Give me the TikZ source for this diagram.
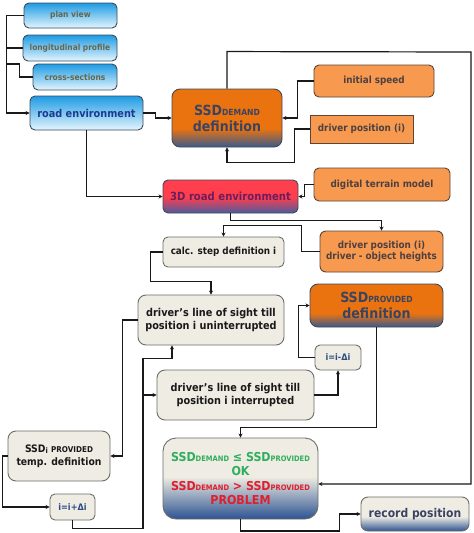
\documentclass[tikz,border=0pt]{standalone}
\usepackage{fontspec}
\setmainfont{DejaVu Sans Condensed}
\usetikzlibrary{arrows.meta,calc}
\definecolor{bluetop}{HTML}{1E9BE3}
\definecolor{bluebot}{HTML}{E4F5FD}
\definecolor{blueedge}{HTML}{3C4A5C}
\definecolor{orlight}{HTML}{F7994F}
\definecolor{oredge}{HTML}{5E4434}
\definecolor{ordeep}{HTML}{EA730F}
\definecolor{ssdblue}{HTML}{3A5A8E}
\definecolor{beige}{HTML}{EEECE3}
\definecolor{beigeedge}{HTML}{6E6E68}
\definecolor{redtop}{HTML}{FF3E4E}
\definecolor{bluethree}{HTML}{4A5C9E}
\definecolor{resblue}{HTML}{2C5391}
\definecolor{txtolive}{HTML}{66664C}
\definecolor{txtroad}{HTML}{1C3A92}
\definecolor{txtssd}{HTML}{3A4462}
\definecolor{txtor}{HTML}{4E4040}
\definecolor{txtthree}{HTML}{6E1D5C}
\definecolor{txtdelta}{HTML}{2A4C80}
\definecolor{okgreen}{HTML}{2FAE5E}
\definecolor{badred}{HTML}{E21E2C}
\pgfdeclareverticalshading{ssdshade}{100bp}{color(0bp)=(ssdblue); color(25bp)=(ssdblue); color(41bp)=(ordeep); color(100bp)=(ordeep)}
\pgfdeclareverticalshading{envshade}{100bp}{color(0bp)=(bluethree); color(25bp)=(bluethree); color(49bp)=(redtop); color(100bp)=(redtop)}
\pgfdeclareverticalshading{resshade}{100bp}{color(0bp)=(resblue); color(25bp)=(resblue); color(51bp)=(beige); color(100bp)=(beige)}
\pgfdeclareverticalshading{recshade}{100bp}{color(0bp)=(resblue); color(25bp)=(resblue); color(46bp)=(beige); color(100bp)=(beige)}
\newcommand\myfs[2]{\fontsize{#1}{#2}\selectfont}
\newcommand\smcap[1]{{\fontsize{8.5}{8.5}\selectfont #1}}
\newcommand\tinycap[1]{{\fontsize{7.5}{7.5}\selectfont #1}}
\tikzset{
  box/.style={rounded corners=5pt, draw, line width=0.9pt, align=center, inner sep=1pt, font=\bfseries},
  bluebox/.style={box, top color=bluetop, bottom color=bluebot, draw=blueedge, text=txtolive},
  orbox/.style={box, fill=orlight, draw=oredge, text=txtor, font={\bfseries\myfs{9.8}{11.5}}},
  ssdbox/.style={box, shading=ssdshade, draw=blueedge, text=txtssd, font={\bfseries\myfs{14}{16}}},
  beigebox/.style={box, fill=beige, draw=beigeedge, text=black!90},
  conn/.style={line width=1.2pt, draw=black!90},
  arr/.style={conn, -{Stealth[length=4pt,width=4pt]}}
}
\begin{document}
\begin{tikzpicture}[x=1pt,y=-1pt]
\useasboundingbox[fill=white] (0,0) rectangle (474,533);
% nodes
\node[bluebox, font={\bfseries\myfs{8.4}{10}}, minimum width=93pt, minimum height=25pt] (plan) at (70.5,15.5) {plan view};
\node[bluebox, font={\bfseries\myfs{8.3}{10}}, minimum width=94pt, minimum height=26pt] (long) at (70,48) {longitudinal profile};
\node[bluebox, font={\bfseries\myfs{8.4}{10}}, minimum width=84pt, minimum height=26pt] (cross) at (75,77) {cross-sections};
\node[bluebox, font={\bfseries\myfs{10.8}{12}}, minimum width=113pt, minimum height=34pt, text=txtroad] (road) at (86.5,113) {road environment};
\node[ssdbox, minimum width=110pt, minimum height=58pt, rounded corners=8pt] (ssdd) at (227,118) {SSD\smcap{DEMAND}\\definition};
\node[orbox, minimum width=120pt, minimum height=32pt] (speed) at (374,81) {initial speed};
\node[orbox, rounded corners=0pt, minimum width=103pt, minimum height=28pt] (dpos) at (361.5,129) {driver position (i)};
\node[box, shading=envshade, draw=blueedge, text=txtthree, font={\bfseries\myfs{11.2}{13}}, minimum width=135pt, minimum height=33pt] (env3d) at (230.5,196.5) {3D road environment};
\node[orbox, minimum width=136pt, minimum height=33pt] (dtm) at (382,184.5) {digital terrain model};
\node[beigebox, font={\bfseries\myfs{9.8}{11}}, minimum width=121pt, minimum height=30pt] (calc) at (223.5,252) {calc. step definition i};
\node[orbox, minimum width=123pt, minimum height=41pt, rounded corners=6pt] (dheights) at (381.5,251.5) {driver position (i)\\driver - object heights};
\node[ssdbox, minimum width=133pt, minimum height=43pt, rounded corners=8pt] (ssdp) at (376.5,305.5) {SSD\smcap{PROVIDED}\\definition};
\node[beigebox, font={\bfseries\myfs{10.8}{13}}, minimum width=146pt, minimum height=50pt, rounded corners=8pt] (unint) at (211,320) {driver’s line of sight till\\position i uninterrupted};
\node[beigebox, font={\bfseries\myfs{9}{10}}, minimum width=46pt, minimum height=25pt, text=txtdelta] (iminus) at (338,357.5) {i=i-Δi};
\node[beigebox, font={\bfseries\myfs{10.8}{13}}, minimum width=157pt, minimum height=50pt, rounded corners=8pt] (inter) at (235.5,395) {driver’s line of sight till\\position i interrupted};
\node[beigebox, font={\bfseries\myfs{10.3}{13.5}}, minimum width=102pt, minimum height=50pt, rounded corners=8pt] (ssdi) at (59,456) {SSD{\myfs{7.5}{8}\raisebox{-1.5pt}{i}} {\myfs{8}{8}PROVIDED}\\temp. definition};
\node[beigebox, font={\bfseries\myfs{9}{10}}, minimum width=45pt, minimum height=26pt, text=txtdelta] (iplus) at (72.5,507) {i=i+Δi};
\node[box, shading=resshade, draw=beigeedge, font={\bfseries\myfs{12.3}{14.6}}, minimum width=155pt, minimum height=81pt, rounded corners=13pt, text depth=0pt] (result) at (240.5,478.5) {\color{okgreen}SSD\tinycap{DEMAND} ≤ SSD\tinycap{PROVIDED}\\\color{okgreen}OK\\\color{badred}SSD\tinycap{DEMAND} > SSD\tinycap{PROVIDED}\\\color{badred}PROBLEM};
\node[box, shading=recshade, draw=beigeedge, text=txtssd, font={\bfseries\myfs{12}{13}}, minimum width=108pt, minimum height=34pt, rounded corners=7pt] (record) at (415,514) {record position};
% connectors
\coordinate (trunk) at (7,48);
\draw[arr] (plan.west) -- ++(-17,0) |- (road.west);
\draw[conn] (long.west) -- (trunk);
\draw[conn] (cross.west) -- ++(-13,0) |- (7,64);
\draw[arr] (road.east) -- ++(12,0) |- (ssdd.west);
\draw[arr] (road.south) |- (env3d.west);
\draw[arr] (speed.west) -- ++(-16,0) |- (ssdd.east);
\draw[arr] (dpos.west) -- ++(-15,0) |- ($(ssdd.south)+(0,15)$) -- (ssdd.south);
\draw[arr] (ssdd.north) -- ++(0,-37) -- (471,52) -- (471,484) -- ($(result.east)+(0,5.5)$);
\draw[arr] (dtm.west) -- ++(-9,0) |- (env3d.east);
\draw[arr] (env3d.south) -- ++(0,7) -| (dheights.north);
\draw[arr] (dheights.west) -- ++(-18,0) |- ($(calc.north)+(0,-11)$) -- (calc.north);
\draw[arr] (calc.west) -- ++(-12,0) |- ($(unint.north)+(0,-13)$) -- (unint.north);
\draw[arr] (unint.west) -- ++(-15,0) |- (ssdi.east);
\draw[arr] (ssdi.west) -- ++(-5,0) |- (iplus.west);
\coordinate (jn) at (143,395);
\draw[arr] (iplus.south) -- ++(0,8) -| ($(unint.south)+(-68,13)$) -| ($(unint.south)+(-39,0)$);
\draw[arr] (jn) -- (inter.west);
\draw[arr] (inter.east) -| (iminus.south);
\draw[arr] (iminus.west) -- ++(-16,0) |- (ssdp.west);
\draw[arr] (ssdp.south) |- ($(result.north)+(0,-10)$) -- (result.north);
\draw[arr] (result.south) |- ($(record.west)+(-21,17)$) |- (record.west);
\end{tikzpicture}
\end{document}
